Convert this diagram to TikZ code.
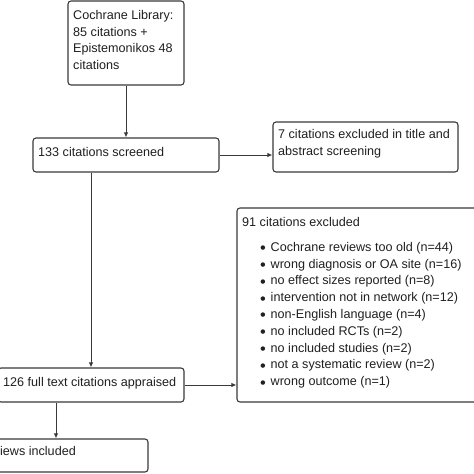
\documentclass[tikz,border=0pt]{standalone}
\usepackage{fontspec}
\setmainfont{Liberation Sans}
\usetikzlibrary{arrows.meta}
\definecolor{boxgray}{HTML}{3A3A3A}
\definecolor{txtgray}{HTML}{202020}
\newcommand{\bul}{\makebox[10.5pt][l]{\raisebox{-2.3pt}{\scalebox{1.3}{•}}}}
\tikzset{
  box/.style={draw=boxgray, line width=1.1pt, rounded corners=3pt, inner sep=0pt},
  txt/.style={inner sep=0pt, align=left, text=txtgray, font=\fontsize{12.6}{16.8}\selectfont},
  arr/.style={draw=boxgray, line width=1pt, -{Latex[length=5pt,width=4.5pt]}},
  ln/.style={draw=boxgray, line width=1pt}
}

\begin{document}
\begin{tikzpicture}[x=1pt,y=-1pt]
  \useasboundingbox (0,0) rectangle (474,474);
  \fill[white] (0,0) rectangle (474,474);
  \clip (0,0) rectangle (474,474);
      % boxes
      \node (lib) at (126,43) [box, minimum width=116, minimum height=84] {};
      \node (screen) at (126,155) [box, minimum width=186, minimum height=34] {};
      \node (tiab) at (365.5,147) [box, minimum width=185, minimum height=50] {};
      \node (full) at (91,385) [box, minimum width=186, minimum height=34] {};
      \node (excl) at (363.5,305) [box, minimum width=253, minimum height=194] {};
      \node (incl) at (56,455.5) [box, minimum width=184, minimum height=33] {};
      % texts
      \node (libtxt) at (73,10) [txt, anchor=north west] {Cochrane Library:\\85 citations +\\Epistemonikos 48\\citations};
      \node (screentxt) at (38,156) [txt, anchor=base west] {133 citations screened};
      \node (tiabtxt) at (278,129) [txt, anchor=north west] {7 citations excluded in title and\\abstract screening};
      \node (fulltxt) at (3,386) [txt, anchor=base west] {126 full text citations appraised};
      \node (excltxt) at (242,226) [txt, anchor=base west] {91 citations excluded};
      \node (exclist) at (260,242) [txt, anchor=north west] {\bul Cochrane reviews too old (n=44)\\
        \bul wrong diagnosis or OA site (n=16)\\
        \bul no effect sizes reported (n=8)\\
        \bul intervention not in network (n=12)\\
        \bul non-English language (n=4)\\
        \bul no included RCTs (n=2)\\
        \bul no included studies (n=2)\\
        \bul not a systematic review (n=2)\\
        \bul wrong outcome (n=1)};
      \node (incltxt) at (76,455) [txt, anchor=base east] {reviews included};
      % connectors
      \draw[arr] (lib) to (screen);
      \draw[arr] (screen.east) to (screen.east -| tiab.west);
      \draw[arr] (screen.south -| full.north) to (full.north);
      \draw[arr] (full.east) to (full.east -| excl.west);
      \draw[arr] (full.south -| incl.north) to (incl.north);
  \end{tikzpicture}
\end{document}
